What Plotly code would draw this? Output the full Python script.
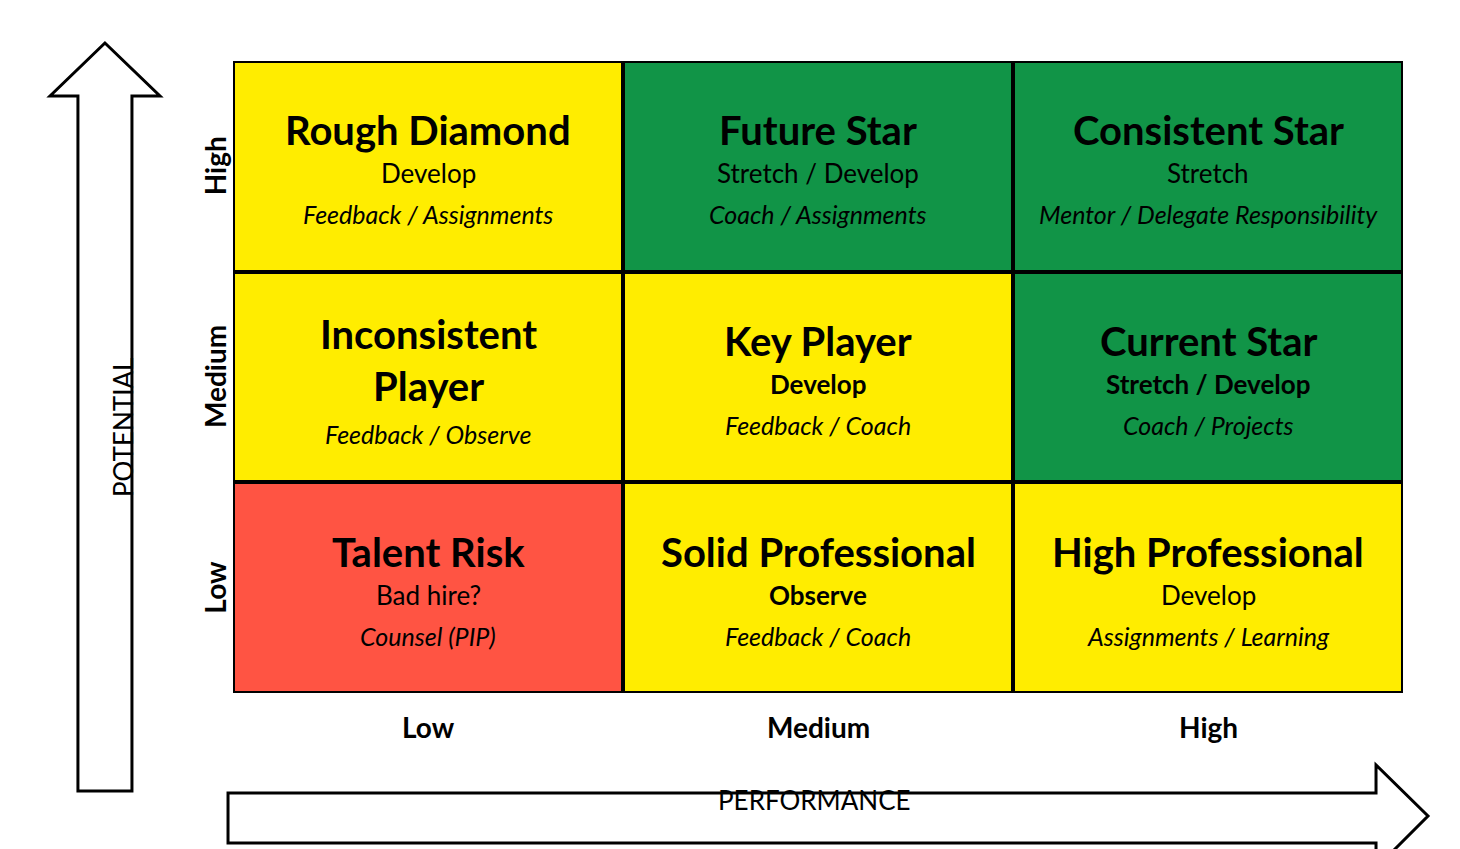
import plotly.graph_objects as go

W, H = 1460, 849
perf_levels = ["Low", "Medium", "High"]
pot_levels = ["Low", "Medium", "High"]
# z codes: 0 red, 1 yellow, 2 green ; rows = potential Low..High
z_codes = [[0, 1, 1], [1, 1, 2], [1, 2, 2]]
titles = [["Talent Risk", "Solid Professional", "High Professional"],
          ["Inconsistent<br>Player", "Key Player", "Current Star"],
          ["Rough Diamond", "Future Star", "Consistent Star"]]
actions = [["Bad hire?", "Observe", "Develop"],
           ["", "Develop", "Stretch / Develop"],
           ["Develop", "Stretch / Develop", "Stretch"]]
action_bold = [[False, True, False], [False, True, True], [False, False, False]]
methods = [["Counsel (PIP)", "Feedback / Coach", "Assignments / Learning"],
           ["Feedback / Observe", "Feedback / Coach", "Coach / Projects"],
           ["Feedback / Assignments", "Coach / Assignments", "Mentor / Delegate Responsibility"]]

RED, YEL, GRN = "#FF5443", "#FFED00", "#119447"
FONT = "Lato"

def px(x): return x / W
def py(y): return 1 - y / H

fig = go.Figure(go.Heatmap(
    z=z_codes, x=[0, 1, 2], y=[0, 1, 2], zmin=0, zmax=2, showscale=False,
    colorscale=[[0, RED], [0.333, RED], [0.333, YEL], [0.667, YEL], [0.667, GRN], [1, GRN]],
    xgap=4, ygap=4, hoverinfo="skip"))

ann = []
for r in range(3):
    for c in range(3):
        ys_title = 17 if "<br>" in titles[r][c] else 36
        ann.append(dict(x=c, y=r, xref="x", yref="y", text=f"<b>{titles[r][c]}</b>", yshift=ys_title,
                        showarrow=False, font=dict(family=FONT, size=40, color="black")))
        if actions[r][c]:
            t = f"<b>{actions[r][c]}</b>" if action_bold[r][c] else actions[r][c]
            ann.append(dict(x=c, y=r, xref="x", yref="y", text=t, yshift=-7, showarrow=False,
                            font=dict(family=FONT, size=26, color="black")))
        ann.append(dict(x=c, y=r, xref="x", yref="y", text=f"<i>{methods[r][c]}</i>",
                        yshift=-57 if not actions[r][c] else -48, showarrow=False,
                        font=dict(family=FONT, size=25, color="black")))

for i, lab in enumerate(perf_levels):
    ann.append(dict(x=i, y=-0.5, xref="x", yref="y", yshift=-34, text=f"<b>{lab}</b>", showarrow=False,
                    font=dict(family=FONT, size=28, color="black")))
for i, lab in enumerate(pot_levels):
    ann.append(dict(x=px(188), y=i, xref="paper", yref="y", textangle=-90, text=f"<b>{lab}</b>", showarrow=False,
                    font=dict(family=FONT, size=28, color="black")))
ann.append(dict(x=px(97), y=py(420), xref="paper", yref="paper", textangle=-90, text="POTENTIAL",
                showarrow=False, font=dict(family=FONT, size=26, color="black")))
ann.append(dict(x=px(806), y=py(810), xref="paper", yref="paper", text="PERFORMANCE",
                showarrow=False, font=dict(family=FONT, size=26, color="black")))

def path(pts):
    return "M " + " L ".join(f"{px(x):.4f},{py(y):.4f}" for x, y in pts) + " Z"

shapes = [
    dict(type="path", xref="paper", yref="paper", line=dict(color="black", width=3), fillcolor="white",
         path=path([(70, 783), (70, 88), (42, 88), (97, 35), (152, 88), (124, 88), (124, 783)])),
    dict(type="path", xref="paper", yref="paper", line=dict(color="black", width=3), fillcolor="white",
         path=path([(220, 785), (1368, 785), (1368, 757), (1420, 808), (1368, 860), (1368, 835), (220, 835)])),
    dict(type="rect", xref="x", yref="y", x0=-0.5, x1=2.5, y0=-0.5, y1=2.5, line=dict(color="black", width=4)),
]

fig.update_layout(
    width=W, height=H, margin=dict(l=0, r=0, t=0, b=0),
    paper_bgcolor="white", plot_bgcolor="black",
    xaxis=dict(domain=[px(225), px(1395)], range=[-0.5, 2.5], visible=False, fixedrange=True),
    yaxis=dict(domain=[py(685), py(53)], range=[-0.5, 2.5], visible=False, fixedrange=True),
    annotations=ann, shapes=shapes, showlegend=False)
fig.write_html("out.html")
